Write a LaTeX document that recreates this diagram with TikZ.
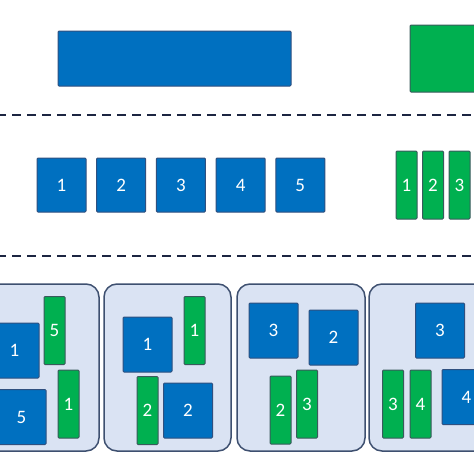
\documentclass[tikz,border=0pt]{standalone}
\usepackage{fontspec}
\setmainfont{Carlito}

\definecolor{boxblue}{HTML}{0070C0}
\definecolor{boxgreen}{HTML}{00B050}
\definecolor{edgeblue}{HTML}{2F5080}
\definecolor{edgegreen}{HTML}{3A5A5C}
\definecolor{panelfill}{HTML}{DAE3F3}
\definecolor{paneledge}{HTML}{3E5070}
\definecolor{dashnavy}{HTML}{1C2541}

\tikzset{
  bluebox/.style={draw=edgeblue, fill=boxblue, line width=1pt, text=white,
    inner sep=0pt, minimum width=49pt, minimum height=55pt, rounded corners=1pt,
    font=\fontsize{19}{21}\selectfont},
  greenbox/.style={draw=edgegreen, fill=boxgreen, line width=1pt, text=white,
    inner sep=0pt, minimum width=21pt, minimum height=68pt, rounded corners=1pt,
    font=\fontsize{19}{21}\selectfont},
  panel/.style={draw=paneledge, fill=panelfill, line width=1.5pt, rounded corners=13pt},
  divider/.style={draw=dashnavy, line width=2.5pt, dash pattern=on 9pt off 6pt}
}

\begin{document}
\begin{tikzpicture}[x=1pt,y=-1pt]
    \useasboundingbox (0,0) rectangle (474,474);
    \clip (0,0) rectangle (474,474);

% top row: one long bar, one big block
    \node[bluebox, minimum width=233pt, minimum height=55pt] (bar) at (174.5,58.5) {};
    \node[greenbox, minimum width=80pt, minimum height=67pt] (block) at (450,58.5) {};

    \draw[divider] (-3,115) -- (480,115);

% middle row
      \foreach \i in {1,...,5}
	  {
		\node[bluebox, minimum height=54pt] (m\i) at ({61.5+(\i-1)*59.7},185) {\i};
	  };
      \foreach \i in {1,2,3}
	  {
		\node[greenbox] (g\i) at ({406.5+(\i-1)*26.5},185) {\i};
	  };

    \draw[divider] (-3,256) -- (480,256);

% bottom row: panels
      \foreach \left/\right in {-30/99, 104/231, 237/365, 369/510}
	  {
		\draw[panel] (\left,284) rectangle (\right,451);
	  };

% blue squares inside the panels
      \foreach \x/\y/\txt/\name in {
		  14.5/350.5/1/pa1, 21.5/417/5/pa5,
		  147.5/344.5/1/pb1, 188/410.5/2/pb2,
		  273.5/330.5/3/pc3, 333.5/337.5/2/pc2,
		  440/330.5/3/pd3, 466.5/397/4/pd4}
	  {
		\node[bluebox] (\name) at (\x,\y) {\txt};
	  };

% green bars inside the panels
      \foreach \x/\y/\txt/\name in {
		  54.5/330.5/5/qa5, 68.5/404/1/qa1,
		  194.5/330.5/1/qb1, 147.5/410.5/2/qb2,
		  280.5/410/2/qc2, 307/404/3/qc3,
		  393/404/3/qd3, 420.5/404/4/qd4}
	  {
		\node[greenbox] (\name) at (\x,\y) {\txt};
	  };

    \end{tikzpicture}
\end{document}
